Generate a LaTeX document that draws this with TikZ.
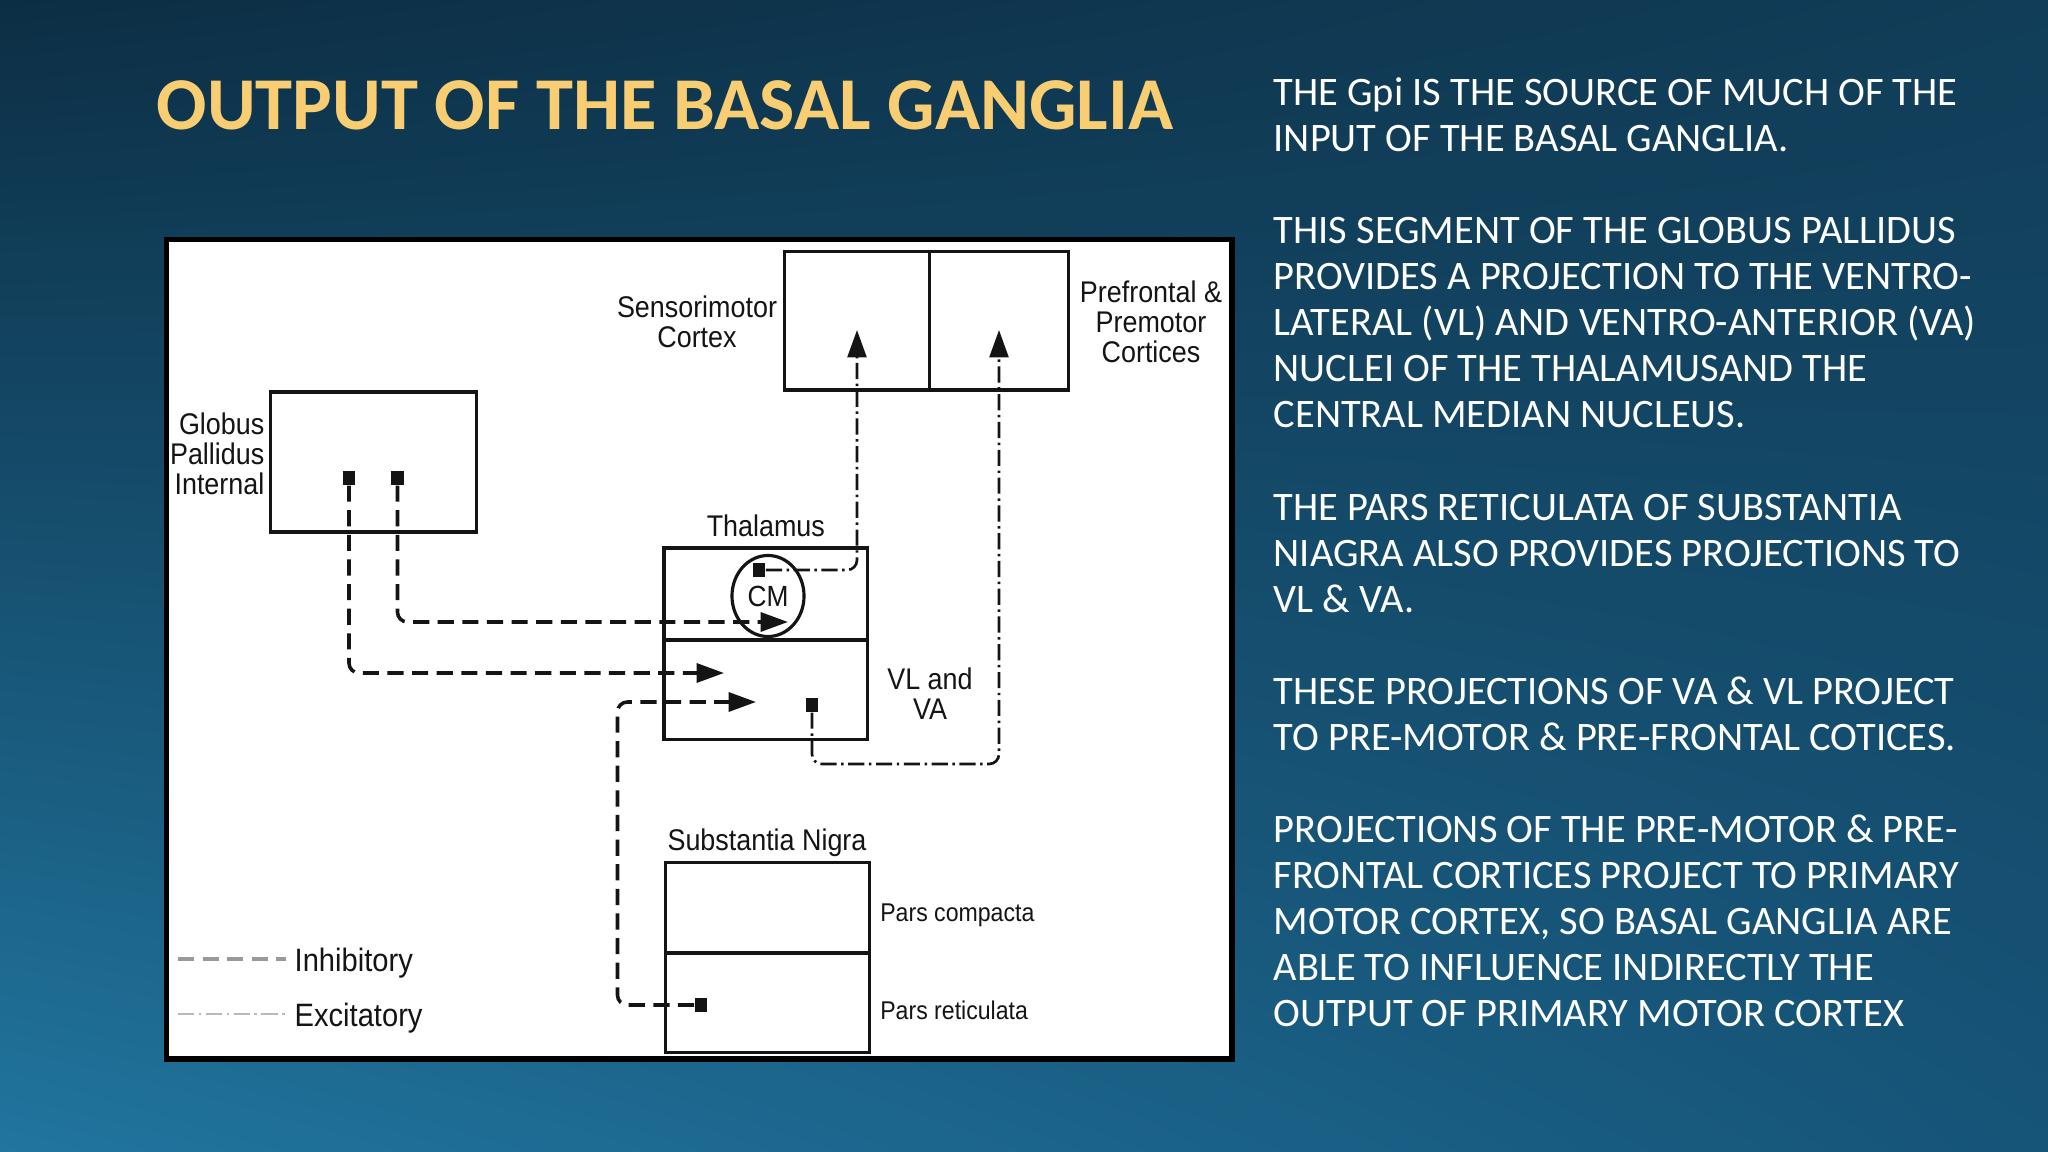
\documentclass[tikz,border=0pt]{standalone}
\usepackage{fontspec}
\setmainfont{Carlito}
\newfontfamily\diagfont[FakeStretch=0.9]{Liberation Sans}
\usetikzlibrary{arrows.meta,positioning,calc,shapes.geometric,shadings}

\definecolor{bgul}{HTML}{0C2E44}
\definecolor{bgur}{HTML}{113D58}
\definecolor{bgll}{HTML}{21759F}
\definecolor{bglr}{HTML}{165478}
\definecolor{titlegold}{HTML}{F9CD72}
\definecolor{ink}{HTML}{141414}

\tikzset{
  box/.style={draw=ink,line width=0.9pt,inner sep=0pt,outer sep=0pt,anchor=north west},
  term/.style={fill=ink,minimum width=3.5pt,minimum height=3.9pt,inner sep=0pt},
  inhib/.style={draw=ink,line width=1pt,dash pattern=on 4.6pt off 2.4pt,rounded corners=2.8pt},
  excit/.style={draw=ink,line width=0.75pt,dash pattern=on 4.6pt off 1.3pt on 0.7pt off 1.3pt,rounded corners=2.8pt},
  tri/.style={-{Triangle[length=7.8pt,width=5.4pt]}},
  lbl/.style={font=\diagfont\fontsize{8.5}{8.6}\selectfont,text=ink,inner sep=0pt,align=center},
  parslbl/.style={font=\diagfont\fontsize{7.3}{8}\selectfont,text=ink,inner sep=0pt},
  keylbl/.style={font=\diagfont\fontsize{9.2}{10}\selectfont,text=ink,inner sep=0pt},
  body/.style={font=\fontsize{11.5}{13}\selectfont,text=white,inner sep=0pt,anchor=base west},
}

\begin{document}
\begin{tikzpicture}[x=0.01cm,y=-0.01cm]
\useasboundingbox (0,0) rectangle (2048,1152);
\shade[upper left=bgul,upper right=bgur,lower left=bgll,lower right=bglr] (0,0) rectangle (2048,1152);

% slide title and notes
\node[anchor=base west,inner sep=0pt,text=titlegold,font=\bfseries\fontsize{21.2}{25}\selectfont] (title) at (156,130) {OUTPUT OF THE BASAL GANGLIA};
\foreach \k/\txt in {0/{THE Gpi IS THE SOURCE OF MUCH OF THE},1/{INPUT OF THE BASAL GANGLIA.},
  3/{THIS SEGMENT OF THE GLOBUS PALLIDUS},4/{PROVIDES A PROJECTION TO THE VENTRO-},
  5/{LATERAL (VL) AND VENTRO-ANTERIOR (VA)},6/{NUCLEI OF THE THALAMUSAND THE},
  7/{CENTRAL MEDIAN NUCLEUS.},
  9/{THE PARS RETICULATA OF SUBSTANTIA},10/{NIAGRA ALSO PROVIDES PROJECTIONS TO},11/{VL \& VA.},
  13/{THESE PROJECTIONS OF VA \& VL PROJECT},14/{TO PRE-MOTOR \& PRE-FRONTAL COTICES.},
  16/{PROJECTIONS OF THE PRE-MOTOR \& PRE-},17/{FRONTAL CORTICES PROJECT TO PRIMARY},
  18/{MOTOR CORTEX, SO BASAL GANGLIA ARE},19/{ABLE TO INFLUENCE INDIRECTLY THE},
  20/{OUTPUT OF PRIMARY MOTOR CORTEX}}
  \node[body] at (1273,{105.7+46.04*\k}) {\txt};

% diagram panel
\draw[fill=white,line width=1.5pt] (166.5,239.5) rectangle (1232,1059);

\node[box,minimum width=1.445cm,minimum height=1.385cm] (smc) at (784.5,251.5) {};
\node[box,minimum width=1.39cm,minimum height=1.385cm,right=0pt of smc.north east,anchor=north west] (pfc) {};
\node[box,minimum width=2.055cm,minimum height=1.40cm] (gpi) at (270.7,392) {};
\node[box,minimum width=2.035cm,minimum height=0.92cm] (thal) at (664,548) {};
\node[box,minimum width=2.035cm,minimum height=0.99cm,below=0pt of thal.south west,anchor=north west] (vlva) {};
\node[box,minimum width=2.035cm,minimum height=0.903cm] (snc) at (665.5,862.7) {};
\node[box,minimum width=2.035cm,minimum height=0.997cm,below=0pt of snc.south west,anchor=north west] (snr) {};
\node[draw=ink,line width=0.9pt,ellipse,minimum width=0.72cm,minimum height=0.81cm,inner sep=0pt,
  font=\diagfont\fontsize{8.3}{9}\selectfont,text=ink] (cm) at (768,596) {CM};

\node[lbl,anchor=north] (smlbl) at (697,295) {Sensorimotor\\Cortex};
\node[lbl,anchor=north] (pflbl) at (1151,280) {Prefrontal \&\\Premotor\\Cortices};
\node[lbl,anchor=north east,align=right] (gplbl) at (265,412) {Globus\\Pallidus\\Internal};
\node[lbl,above=1mm of thal] (thallbl) {Thalamus};
\node[lbl,anchor=north] (vllbl) at (930,667) {VL and\\VA};
\node[lbl,anchor=base] (snlbl) at (767,850) {Substantia Nigra};
\node[parslbl,anchor=base west] (pclbl) at (879.6,921.7) {Pars compacta};
\node[parslbl,anchor=base west] (prlbl) at (879.6,1019) {Pars reticulata};

% terminals and arrow ends
\node[term] (gpsqa) at (349,478) {};
\node[term] (gpsqb) at (397.5,478) {};
\node[term] (cmsq) at (759,570) {};
\node[term] (vlsq) at (812,705) {};
\node[term] (snsq) at (701,1005) {};
\coordinate (vltipa) at (724,673);
\coordinate (cmtip) at (788,622);
\coordinate (vltipb) at (756,702);
\coordinate (snbend) at (617.5,702);
\coordinate (smtip) at (857,330);
\coordinate (pftip) at (999,330);
\coordinate (vlbend) at (999,764);

\draw[inhib,tri] (gpsqa) |- (vltipa);
\draw[inhib,tri] (gpsqb) |- (cmtip);
\draw[inhib,tri] (snsq) -| (snbend) -- (vltipb);
\draw[excit,tri] (cmsq) -| (smtip);
\draw[excit,tri] (vlsq) |- (vlbend) -- (pftip);

% key
\coordinate (inhA) at (178,959);
\coordinate (inhB) at (286,959);
\coordinate (excA) at (178,1014);
\coordinate (excB) at (286,1014);
\draw[inhib,draw=gray!80] (inhA) -- (inhB);
\draw[excit,draw=gray!55] (excA) -- (excB);
\node[keylbl,anchor=base west] (inhlbl) at (294,971.7) {Inhibitory};
\node[keylbl,anchor=base west] (exclbl) at (294,1026.7) {Excitatory};
\end{tikzpicture}
\end{document}
